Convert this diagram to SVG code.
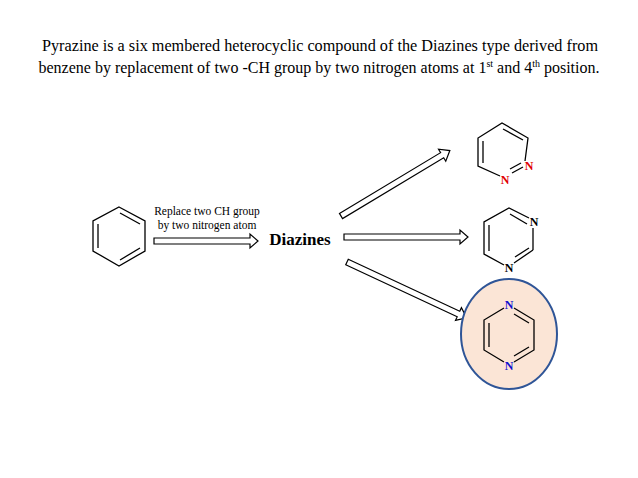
<svg xmlns="http://www.w3.org/2000/svg" width="638" height="478" viewBox="0 0 638 478">
<style>
.b{stroke:#000;stroke-width:1.3;fill:none}
.ar{fill:#fff;stroke:#000;stroke-width:1.2}
.n{font-size:12px;font-weight:bold;text-anchor:middle}
</style>
<rect width="638" height="478" fill="#fff"/>
<g id="title" font-family="'Liberation Serif', 'DejaVu Serif', serif" font-size="16" text-anchor="middle">
<text x="320" y="51" textLength="556" lengthAdjust="spacingAndGlyphs">Pyrazine is a six membered heterocyclic compound of the Diazines type derived from</text>
<text x="319" y="73">benzene by replacement of two -CH group by two nitrogen atoms at 1<tspan font-size="10" dy="-6">st</tspan><tspan dy="6"> and 4</tspan><tspan font-size="10" dy="-6">th</tspan><tspan dy="6"> position.</tspan></text>
</g>
<g id="benzene" class="b">
<polygon points="119,207 145,221 145,251 119,266 93,251 93,221"/>
<line x1="120" y1="213" x2="140" y2="224"/><line x1="140" y1="248" x2="120" y2="260"/><line x1="98" y1="224" x2="98" y2="248"/>
</g>
<g id="connectors">
<polygon class="ar" points="154,238 250,238 250,234 258,241 250,248 250,244 154,244"/>
<polygon class="ar" points="344,234 460,234 460,230 468,237 460,244 460,240 344,240"/>
<polygon class="ar" transform="translate(341,216) rotate(-31)" points="0,-3 118,-3 118,-7 127,0 118,7 118,3 0,3"/>
<polygon class="ar" transform="translate(347,262) rotate(25)" points="0,-3 123,-3 123,-7 132,0 123,7 123,3 0,3"/>
</g>
<g id="label" font-family="'Liberation Serif', 'DejaVu Serif', serif" text-anchor="middle">
<text x="207" y="215" font-size="11.5">Replace two CH group</text>
<text x="207" y="229" font-size="11.5">by two nitrogen atom</text>
<text x="300" y="245" font-size="17" font-weight="bold">Diazines</text>
</g>
<g id="pyridazine" font-family="'Liberation Serif', 'DejaVu Serif', serif">
<g class="b">
<polyline points="525,161 528,138 502,123 478,138 478,166 500,176"/>
<line x1="483" y1="141" x2="483" y2="163"/><line x1="503" y1="129" x2="523" y2="140"/>
<line x1="512" y1="173" x2="523" y2="167"/><line x1="510" y1="169" x2="521" y2="163"/>
</g>
<text class="n" x="529" y="170" fill="#e00000">N</text><text class="n" x="505" y="184" fill="#e00000">N</text>
</g>
<g id="pyrimidine" font-family="'Liberation Serif', 'DejaVu Serif', serif">
<g class="b">
<polyline points="529,218 509,208 484,222 484,254 504,265"/>
<line x1="533" y1="228" x2="533" y2="250"/><line x1="533" y1="250" x2="514" y2="263"/>
<line x1="489" y1="225" x2="489" y2="251"/><line x1="510" y1="214" x2="527" y2="224"/><line x1="529" y1="248" x2="515" y2="257"/>
</g>
<text class="n" x="534" y="226">N</text><text class="n" x="509" y="272">N</text>
</g>
<g id="pyrazine" font-family="'Liberation Serif', 'DejaVu Serif', serif">
<ellipse cx="509" cy="334" rx="48" ry="55" fill="#fbe5d6" stroke="#2f5597" stroke-width="2"/>
<g class="b">
<polyline points="504,308 484,320 484,350 504,362"/>
<polyline points="514,308 534,320 534,350 514,362"/>
<line x1="489" y1="323" x2="489" y2="347"/><line x1="514" y1="314" x2="529" y2="323"/><line x1="529" y1="347" x2="514" y2="356"/>
</g>
<text class="n" x="509" y="309" fill="#1010d0">N</text><text class="n" x="509" y="370" fill="#1010d0">N</text>
</g>
</svg>
